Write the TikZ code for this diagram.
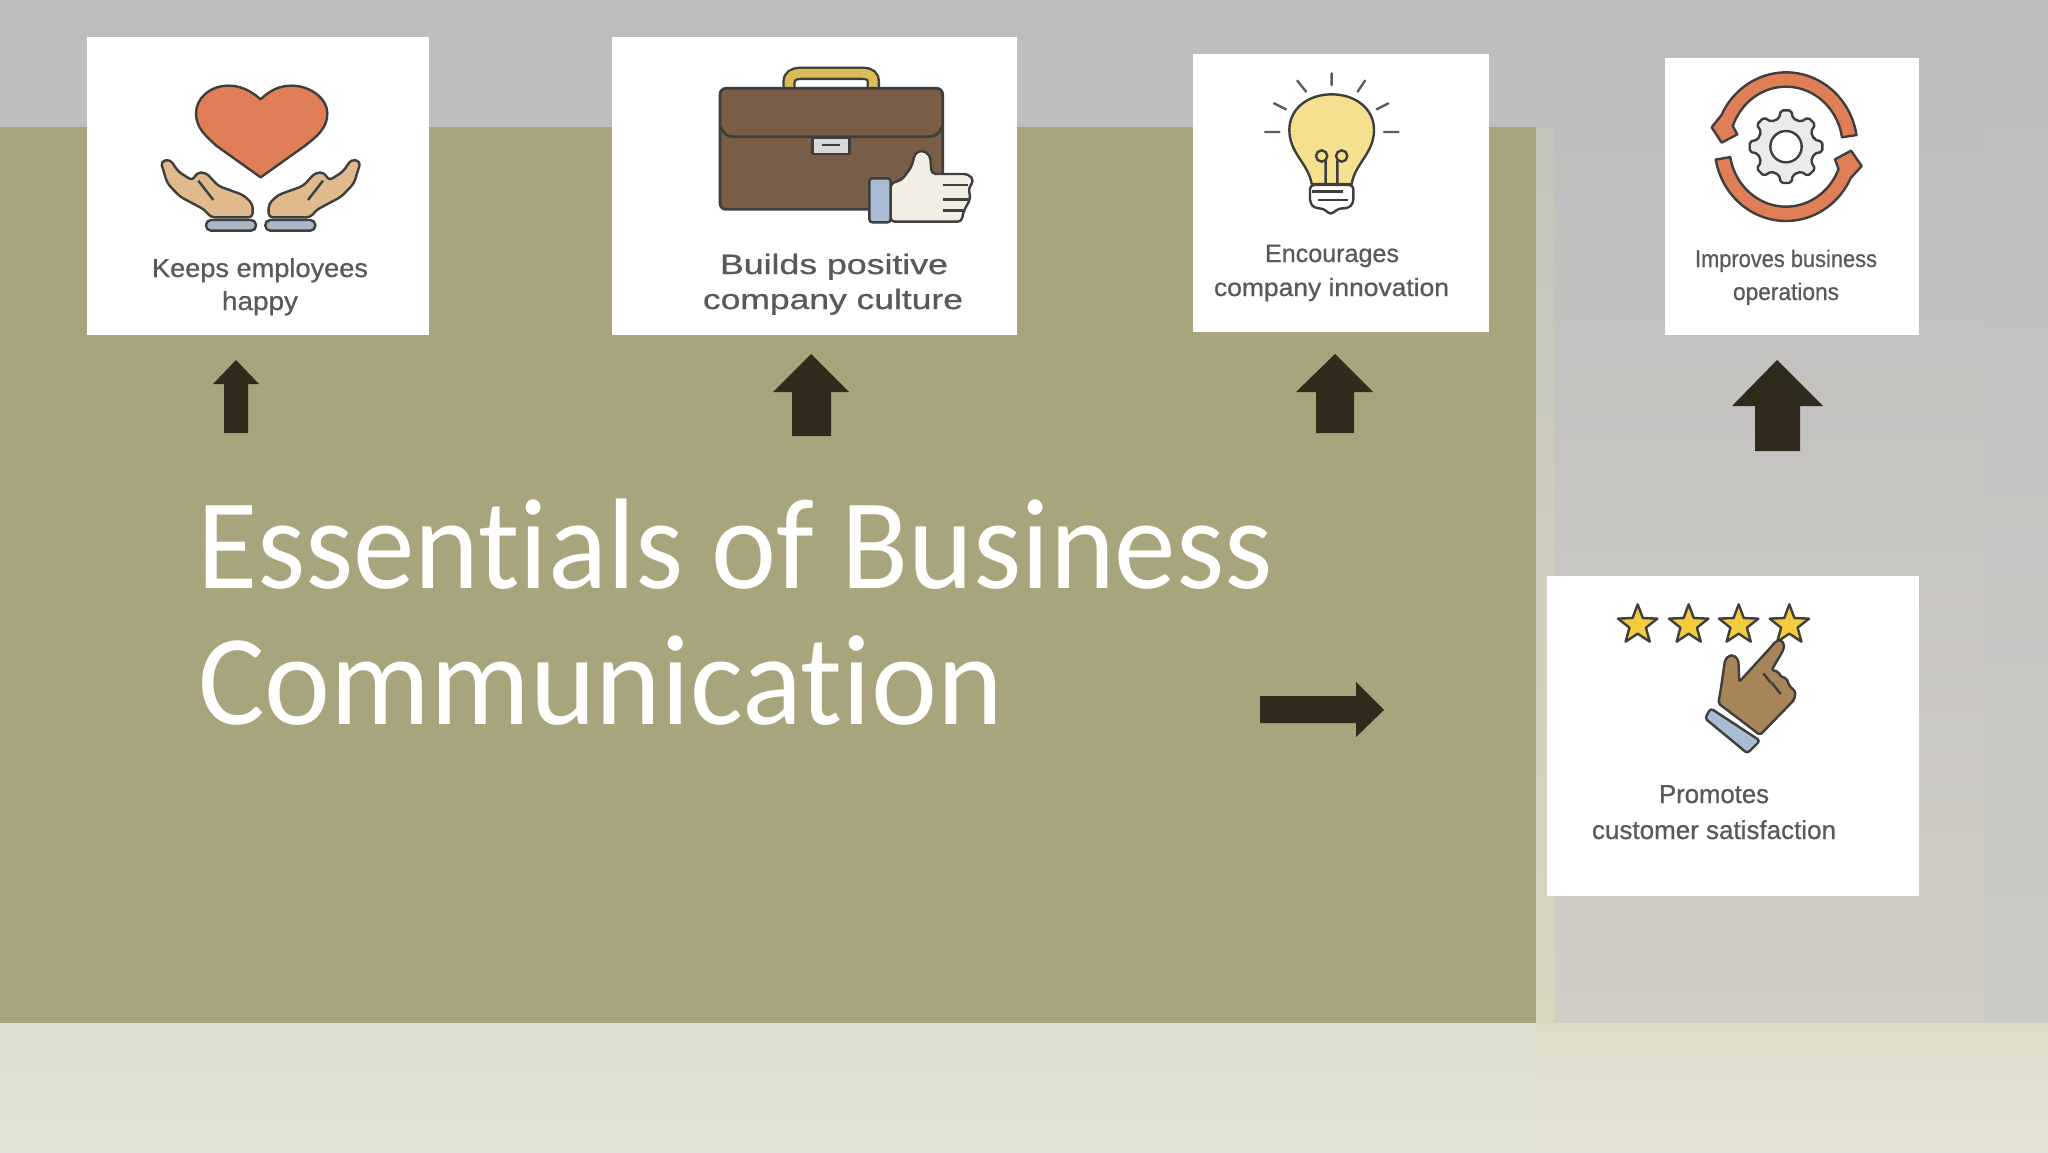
\documentclass[tikz,border=0pt]{standalone}
\usepackage{fontspec}
\setmainfont[FakeBold=0.7]{Liberation Sans}
\newfontfamily\titlefont[Ligatures=NoCommon]{Carlito}
\definecolor{olive}{HTML}{A8A57C}
\definecolor{arrowdark}{HTML}{2F2A1C}
\definecolor{cardtext}{HTML}{58595D}
\definecolor{ink}{HTML}{3E3E3C}
\definecolor{coral}{HTML}{E07E58}
\definecolor{tan}{HTML}{E0B98C}
\definecolor{cuff}{HTML}{A9B7C6}
\definecolor{cuffblue}{HTML}{A8BCD4}
\definecolor{leather}{HTML}{7A5D47}
\definecolor{gold}{HTML}{D9BE56}
\definecolor{bulb}{HTML}{F5E08F}
\definecolor{star}{HTML}{F2CB3E}
\definecolor{skin}{HTML}{A88559}
\tikzset{
  card/.style={fill=white,draw=none,inner sep=0pt,outer sep=0pt},
  cardline/.style={anchor=base,inner sep=0pt,outer sep=0pt,text=cardtext},
  titleline/.style={anchor=base west,inner sep=0pt,outer sep=0pt,text=white},
  blockarrow/.style={fill=arrowdark,draw=none},
  icon/.style={draw=ink,line width=1.2pt,line join=round},
}
\newcommand{\cardtxt}[6]{\node[cardline] (#1) at (#2,#3) {\resizebox{\dimexpr#4pt/2\relax}{\height}{\fontsize{#5}{#5}\selectfont #6}};}
\newcommand{\uparr}[8]{\path[blockarrow] (#1,#2) -- (#5,#3) -- (#7,#3) -- (#7,#4) -- (#8,#4) -- (#8,#3) -- (#6,#3) -- cycle;}
\begin{document}
\begin{tikzpicture}[x=0.5pt,y=-0.5pt]
\useasboundingbox (0,0) rectangle (2048,1152);
% background
\fill[fill={rgb,255:red,190;green,190;blue,190}] (0,0) rectangle (2048,127);
\shade[top color={rgb,255:red,191;green,190;blue,190},middle color={rgb,255:red,202;green,201;blue,196},bottom color={rgb,255:red,209;green,206;blue,198}] (0,127) rectangle (1984,1023);
\shade[top color={rgb,255:red,191;green,191;blue,190},bottom color={rgb,255:red,203;green,202;blue,198}] (1984,127) rectangle (2048,1023);
\shade[top color={rgb,255:red,221;green,222;blue,204},bottom color={rgb,255:red,226;green,226;blue,214}] (0,1023) rectangle (1536,1152);
\shade[top color={rgb,255:red,222;green,221;blue,203},middle color={rgb,255:red,224;green,221;blue,208},bottom color={rgb,255:red,227;green,226;blue,214}] (1536,1023) rectangle (2048,1152);
\fill[olive] (0,127) rectangle (1536,1023);
\shade[top color={rgb,255:red,196;green,195;blue,188},bottom color={rgb,255:red,216;green,215;blue,192}] (1536,127) rectangle (1555,1023);
% title
\node[titleline] (title1) at (197,588) {\resizebox{538pt}{\height}{\titlefont\fontsize{64.5}{64.5}\selectfont Essent\kern0pt ials of Business}};
\node[titleline] (title2) at (198,724) {\resizebox{402.6pt}{\height}{\titlefont\fontsize{64.5}{64.5}\selectfont Communicat\kern0pt ion}};
% cards
\node[card,minimum width=171pt,minimum height=149pt] (card1) at (258,186) {};
\node[card,minimum width=202.5pt,minimum height=149pt] (card2) at (814.5,186) {};
\node[card,minimum width=148pt,minimum height=139pt] (card3) at (1341,193) {};
\node[card,minimum width=127pt,minimum height=138.5pt] (card4) at (1792,196.5) {};
\node[card,minimum width=186pt,minimum height=160pt] (card5) at (1733,736) {};
% card texts
\cardtxt{t1a}{260}{277}{216}{13}{Keeps employees}
\cardtxt{t1b}{260}{310}{76}{13}{happy}
\cardtxt{t2a}{834}{274}{228}{14}{Builds positive}
\cardtxt{t2b}{833}{309}{260}{14}{company culture}
\cardtxt{t3a}{1332}{262}{134}{12.5}{Encourages}
\cardtxt{t3b}{1331.5}{296}{235}{12.5}{company innovation}
\cardtxt{t4a}{1786}{267}{182}{12}{Improves business}
\cardtxt{t4b}{1786}{300}{106}{12}{operations}
\cardtxt{t5a}{1714}{803}{110}{13}{Promotes}
\cardtxt{t5b}{1714}{839}{244}{13}{customer satisfaction}
% block arrows: tip x, tip y, head y, foot y, head left, head right, shaft left, shaft right
\uparr{236}{360}{384}{433}{213}{259}{224}{248}
\uparr{811}{354}{392}{436}{773}{849}{792}{831}
\uparr{1335}{354}{392}{433}{1296}{1373}{1316}{1354}
\uparr{1777}{360}{406}{451}{1732}{1823}{1755}{1800}
\path[blockarrow] (1384,710) -- (1356,682) -- (1356,696) -- (1260,696) -- (1260,723) -- (1356,723) -- (1356,737) -- cycle;
% icon 1: heart and hands
\begin{scope}[shift={(70,20)},xscale=1/3,yscale=1/3]
  \draw[icon,fill=coral] (572,238) .. controls (540,210) and (510,197) .. (475,197) .. controls (420,197) and (378,235) .. (378,280) .. controls (378,325) and (410,350) .. (440,378) -- (572,472) -- (704,378) .. controls (740,350) and (772,325) .. (772,280) .. controls (772,235) and (720,197) .. (665,197) .. controls (630,197) and (600,210) .. cycle;
  \foreach \s/\o in {1/0,-1/1144}{
    \begin{scope}[shift={(\o,0)},xscale=\s]
      \draw[icon,fill=tan,rounded corners=2pt] (272,425) -- (300,418) -- (325,455) -- (368,482) -- (380,458) -- (408,458) -- (445,498) -- (520,525) -- (548,552) -- (548,592) -- (422,592) -- (405,570) -- (330,530) -- (292,490) -- cycle;
      \draw[icon] (385,482) -- (430,540);
      \draw[icon,fill=cuff,rounded corners=2.5pt] (408,600) rectangle (558,632);
    \end{scope}
  }
\end{scope}
% icon 2: briefcase
\begin{scope}[shift={(600,20)},xscale=1/3,yscale=1/3]
  \draw[ink,line width=6.7pt] (567,210) -- (567,185) .. controls (567,170) and (580,160) .. (600,160) -- (790,160) .. controls (810,160) and (820,170) .. (820,185) -- (820,210);
  \draw[gold,line width=4.4pt] (567,210) -- (567,185) .. controls (567,170) and (580,160) .. (600,160) -- (790,160) .. controls (810,160) and (820,170) .. (820,185) -- (820,210);
  \draw[icon,fill=leather,rounded corners=3pt,line width=1.4pt] (360,205) rectangle (1028,568);
  \draw[icon,line width=1.4pt] (362,320) .. controls (370,340) and (380,350) .. (400,350) -- (985,350) .. controls (1005,350) and (1020,340) .. (1026,320);
  \draw[icon,fill=black!15!white] (638,353) rectangle (748,402);
  \draw[icon] (665,375) -- (720,375);
  \draw[icon,fill={rgb,255:red,243;green,238;blue,228},rounded corners=2pt] (872,490) -- (905,480) -- (935,440) -- (945,400) -- (965,390) -- (990,405) -- (995,462) -- (1105,462) -- (1122,482) -- (1105,505) -- (1112,535) -- (1090,575) -- (1085,605) -- (872,605) -- cycle;
  \draw[icon] (1030,495) -- (1105,495) (1030,538) -- (1108,538) (1030,572) -- (1090,572);
  \draw[icon,fill=cuffblue,rounded corners=1.5pt] (808,475) rectangle (872,607);
\end{scope}
% icon 3: bulb
\begin{scope}[shift={(1180,40)},xscale=1/3,yscale=1/3]
  \draw[icon,fill=bulb] (395,432) .. controls (385,370) and (328,340) .. (328,270) .. controls (328,205) and (385,163) .. (455,163) .. controls (525,163) and (582,205) .. (582,270) .. controls (582,340) and (525,370) .. (515,432) -- cycle;
  \draw[icon] (425,348) circle (17) (485,348) circle (17) (437,362) -- (437,432) (472,362) -- (472,432);
  \draw[icon,fill=white,rounded corners=2pt] (390,435) -- (520,435) -- (520,490) -- (505,505) -- (475,505) -- (452,525) -- (430,505) -- (405,505) -- (390,490) -- cycle;
  \draw[icon] (395,455) -- (490,455) (415,480) -- (505,480);
  \draw[icon,line cap=round,draw=ink!85!white] (455,100) -- (455,135) (352,122) -- (378,155) (555,122) -- (533,155) (282,190) -- (318,208) (625,190) -- (590,208) (255,276) -- (298,276) (612,276) -- (655,276);
\end{scope}
% icon 4: gear and circular arrows
\begin{scope}[shift={(1650,40)},xscale=1/3,yscale=1/3]
  \draw[icon,fill=coral] plot[domain=9:155,samples=40,variable=\t] ({408+214*cos(\t)},{320-223*sin(\t)}) -- (185,262) -- (215,308) -- (262,283) -- plot[domain=160:9,samples=40,variable=\t] ({408+170*cos(\t)},{320-180*sin(\t)}) -- cycle;
  \draw[icon,fill=coral] plot[domain=190:335,samples=40,variable=\t] ({408+214*cos(\t)},{320-223*sin(\t)}) -- (635,378) -- (603,332) -- (555,358) -- plot[domain=338:190,samples=40,variable=\t] ({408+170*cos(\t)},{320-180*sin(\t)}) -- cycle;
  \begin{scope}[shift={(408,320)}]
    \draw[icon,fill=black!8!white,rounded corners=1pt] (-14:87) foreach \a in {0,45,...,315}{ -- (\a-14:87) -- (\a-8:110) -- (\a+8:110) -- (\a+14:87)} -- cycle;
    \draw[icon,fill=white] (0,0) circle (47);
  \end{scope}
\end{scope}
% icon 5: stars and pointing hand
\begin{scope}[shift={(1530,560)},xscale=1/3,yscale=1/3]
  \foreach \cx in {323,476,626,778}{
    \draw[icon,fill=star,shift={(\cx,195)}] (-90:62) -- (-54:26) -- (-18:62) -- (18:26) -- (54:62) -- (90:26) -- (126:62) -- (162:26) -- (198:62) -- (234:26) -- cycle;
  }
  \draw[icon,fill=skin,rounded corners=1pt] (722,262) -- (738,243) -- (752,240) -- (763,252) -- (760,270) -- (725,330) -- (745,335) -- (752,350) -- (770,355) -- (778,378) -- (797,395) -- (792,420) -- (690,525) -- (565,430) -- (572,390) -- (585,300) -- (595,288) -- (610,285) -- (625,300) -- (628,365) -- cycle;
  \draw[icon] (700,340) -- (722,368) (725,368) -- (752,402);
  \draw[icon,fill=cuffblue,rounded corners=1.5pt] (542,445) -- (690,542) -- (652,580) -- (525,475) -- cycle;
\end{scope}
\end{tikzpicture}
\end{document}
